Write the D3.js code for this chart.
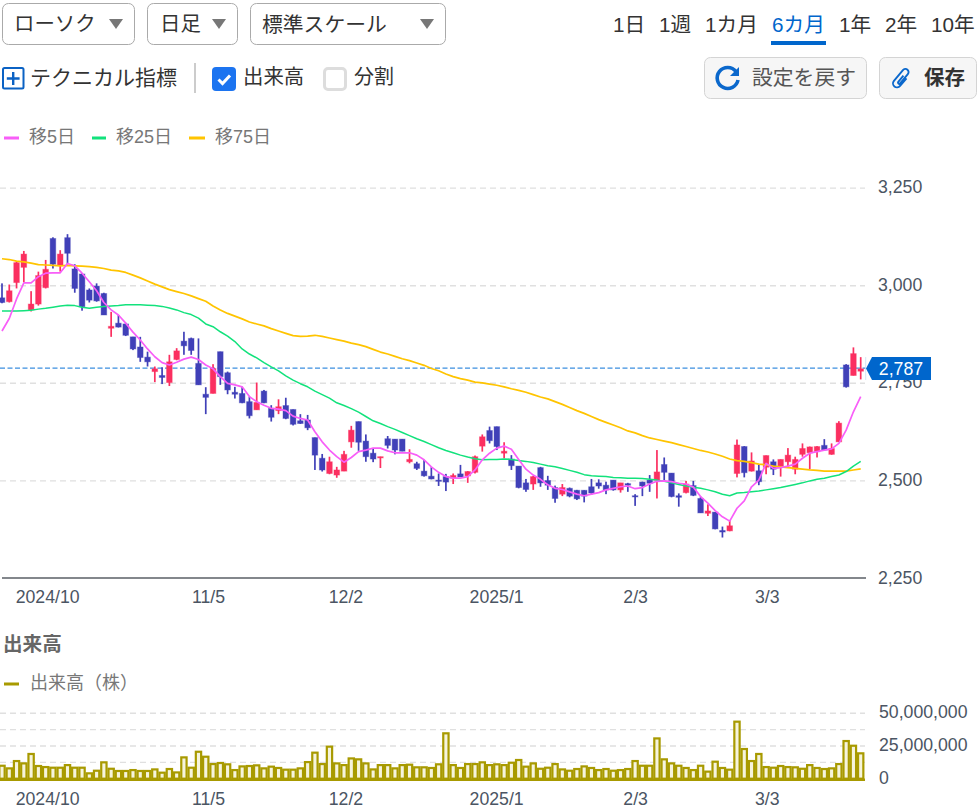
<!DOCTYPE html>
<html lang="ja"><head><meta charset="utf-8">
<script src="https://cdn.jsdelivr.net/npm/d3@7/dist/d3.min.js"></script>
<style>
html,body{margin:0;padding:0;background:#fff;overflow:hidden}
svg{display:block}
text{font-family:"Liberation Sans","Noto Sans CJK JP",sans-serif}
</style></head><body><div id="c"></div>
<script>
// ---------- data ----------
const opens=[2969,2959,3008,3047,2938,2953,2995,3121,3053,3123,
3043,3030,2989,2999,2980,2891,2904,2902,2869,2843,
2817,2780,2770,2752,2811,2858,2865,2801,2722,2724,
2831,2777,2727,2724,2703,2682,2730,2686,2680,2693,
2683,2654,2656,2611,2558,2519,2515,2525,2600,2652,
2602,2571,2559,2608,2607,2607,2549,2544,2525,2512,
2502,2511,2507,2518,2513,2522,2589,2629,2639,2571,
2556,2538,2495,2492,2534,2501,2483,2466,2481,2476,
2476,2485,2495,2489,2502,2477,2493,2462,2497,2502,
2502,2542,2520,2462,2470,2488,2455,2417,2420,2373,
2372,2519,2588,2525,2526,2535,2549,2536,2549,2530,
2568,2572,2575,2591,2568,2600,2797,2770,2781];
const closes=[2957,2987,3059,3081,2953,3026,3042,3055,3081,3083,
2993,2946,2963,2961,2925,2896,2894,2873,2838,2816,
2805,2787,2765,2805,2833,2846,2834,2746,2714,2788,
2767,2733,2722,2700,2667,2701,2700,2663,2690,2660,
2645,2647,2636,2566,2528,2549,2528,2568,2630,2599,
2562,2556,2562,2591,2579,2576,2555,2532,2513,2505,
2500,2497,2514,2510,2524,2562,2613,2603,2588,2576,
2539,2483,2478,2511,2495,2489,2455,2483,2461,2454,
2461,2469,2487,2477,2477,2495,2489,2459,2487,2494,
2523,2522,2460,2458,2492,2463,2418,2423,2377,2369,
2385,2592,2521,2551,2498,2565,2530,2555,2566,2555,
2583,2587,2588,2579,2583,2648,2741,2826,2787];
const highs=[3006,3003,3062,3089,2986,3036,3066,3124,3091,3132,
3055,3032,2993,3006,2982,2933,2925,2905,2869,2869,
2831,2793,2791,2823,2840,2882,2867,2865,2740,2799,
2831,2780,2741,2741,2716,2752,2733,2694,2709,2713,
2683,2671,2669,2611,2569,2562,2536,2577,2641,2652,
2619,2582,2562,2615,2607,2607,2581,2549,2554,2535,
2519,2518,2519,2541,2525,2565,2619,2639,2639,2599,
2566,2538,2505,2513,2536,2513,2488,2492,2483,2477,
2476,2505,2504,2498,2502,2495,2495,2466,2498,2515,
2579,2560,2520,2468,2500,2500,2460,2440,2420,2383,
2400,2606,2589,2573,2541,2565,2555,2555,2584,2562,
2596,2588,2589,2607,2596,2653,2799,2842,2817];
const lows=[2955,2957,2993,3009,2934,2949,2993,3044,3036,3055,
2982,2936,2957,2959,2925,2869,2893,2871,2835,2805,
2793,2753,2748,2743,2809,2823,2823,2746,2671,2724,
2746,2722,2711,2699,2660,2682,2699,2652,2671,2658,
2642,2646,2630,2528,2524,2517,2508,2525,2585,2577,
2549,2548,2533,2583,2568,2576,2545,2528,2511,2504,
2487,2474,2492,2510,2495,2519,2575,2596,2579,2558,
2528,2481,2472,2477,2485,2477,2444,2461,2458,2451,
2445,2464,2480,2466,2475,2470,2472,2436,2461,2472,
2455,2502,2458,2434,2468,2461,2418,2410,2376,2355,
2371,2509,2509,2524,2489,2517,2515,2511,2536,2517,
2562,2530,2560,2577,2567,2600,2739,2770,2760];
const ma5=[2884,2916,2966,3007,3007,3023,3032,3033,3033,3057,
3051,3032,3010,2987,2957,2938,2925,2904,2881,2861,
2838,2818,2803,2797,2804,2812,2817,2811,2797,2787,
2767,2750,2746,2741,2716,2703,2694,2686,2684,2680,
2666,2660,2656,2626,2600,2579,2562,2548,2560,2575,
2579,2584,2584,2577,2572,2572,2572,2566,2554,2536,
2522,2511,2507,2507,2511,2528,2554,2571,2584,2589,
2581,2555,2530,2515,2504,2490,2481,2478,2472,2466,
2462,2466,2470,2477,2481,2485,2487,2480,2483,2492,
2499,2500,2498,2494,2492,2484,2460,2443,2424,2408,
2397,2430,2449,2485,2502,2545,2532,2534,2538,2543,
2558,2571,2575,2579,2582,2596,2630,2677,2716];
const ma25=[2935,2935,2935,2936,2937,2940,2942,2945,2948,2950,
2949,2945,2942,2945,2947,2948,2949,2951,2951,2951,
2950,2949,2947,2943,2938,2931,2926,2917,2902,2895,
2882,2871,2857,2838,2825,2815,2803,2792,2782,2769,
2758,2749,2741,2730,2721,2712,2700,2693,2685,2676,
2665,2654,2647,2639,2632,2624,2616,2608,2601,2593,
2585,2578,2572,2566,2561,2557,2554,2555,2555,2556,
2555,2552,2550,2547,2543,2539,2536,2532,2527,2522,
2516,2513,2512,2511,2509,2508,2507,2507,2506,2504,
2502,2499,2495,2491,2487,2484,2481,2477,2472,2466,
2462,2469,2470,2472,2474,2477,2480,2483,2487,2491,
2495,2500,2504,2507,2511,2515,2524,2538,2550];
const ma75=[3069,3067,3063,3061,3058,3054,3053,3052,3051,3052,
3051,3050,3049,3047,3044,3040,3038,3034,3027,3020,
3012,3004,2997,2990,2985,2980,2974,2967,2960,2948,
2938,2929,2922,2915,2907,2902,2897,2890,2884,2878,
2872,2870,2871,2873,2870,2866,2862,2858,2853,2849,
2844,2837,2830,2825,2819,2813,2808,2802,2796,2788,
2782,2774,2767,2762,2758,2753,2751,2748,2745,2741,
2736,2732,2727,2721,2715,2710,2703,2696,2688,2680,
2673,2665,2657,2650,2643,2636,2628,2623,2616,2610,
2606,2602,2598,2593,2588,2583,2578,2574,2569,2563,
2556,2552,2550,2547,2543,2541,2538,2536,2534,2532,
2530,2528,2527,2525,2525,2525,2525,2528,2531];
const volumeMillions=[9.9,7.9,13.5,11.7,18.9,9.7,8.9,8.4,8.4,10.4,
8.4,8.4,4.1,6.1,12.5,7.6,5.9,5.9,6.6,5.9,
5.9,7.1,4.6,7.4,4.8,16.3,8.4,20.6,16.8,11.2,
12.0,11.0,6.6,9.4,9.7,10.2,7.9,9.2,8.2,6.9,
6.9,7.9,12.7,19.9,11.2,24.5,11.7,10.4,15.5,14.8,
11.7,7.1,10.4,10.4,7.9,10.4,10.7,8.7,8.7,8.2,
11.0,34.7,10.4,8.2,11.2,11.2,12.5,10.4,11.0,10.4,
12.2,14.3,9.2,11.7,7.6,8.4,11.2,7.1,6.1,7.4,
9.4,8.2,6.6,7.4,6.1,6.6,7.4,13.5,9.9,9.9,
30.8,14.8,11.7,9.9,8.2,6.6,9.9,5.4,13.0,8.2,
6.9,43.6,22.7,13.5,18.9,8.9,8.4,9.7,8.9,8.7,
7.6,10.4,8.2,7.4,7.9,11.2,28.8,25.2,19.4];
const dateLabels=["2024/10","11/5","12/2","2025/1","2/3","3/3"];
const dateTickIndex=[6.2,28.3,47.2,67.9,87,105.1];
const priceTicks=[2250,2500,2750,3000,3250];
const priceGrid=[2500,2750,3000,3250];
const volumeAxisTicks=[0,25,50];
const volumeGrid=[12.5,25,37.5,50];
const lastPrice=2787;
const rangeTabs=["1日","1週","1カ月","6カ月","1年","2年","10年"];
const maLabels=["移5日","移25日","移75日"];

// ---------- layout ----------
const W=978,H=812;
const svg=d3.select("#c").append("svg").attr("width",W).attr("height",H);
const x=d3.scaleLinear().domain([0,opens.length-1]).range([2,860.7]);
const y=d3.scaleLinear().domain([2250,3250]).range([578.5,188.1]);
const yV=d3.scaleLinear().domain([0,50]).range([778.7,713.3]);
const UP="#fb2f60",DOWN="#4040b8",MAG="#f85ef8",GRN="#12e27c",YEL="#ffc400";
const AX="#4b5563",OLIVE="#a89a00";
const gridX=[0,865];

function txt(t,xx,yy,size,col,opt={}){
  return svg.append("text").text(t).attr("x",xx).attr("y",yy).attr("font-size",size)
   .attr("fill",col).attr("dominant-baseline","central")
   .attr("font-weight",opt.w||400).attr("text-anchor",opt.a||"start");
}
function box(x0,y0,w,h,fill,stroke){
  return svg.append("rect").attr("x",x0).attr("y",y0).attr("width",w).attr("height",h)
   .attr("rx",6).attr("fill",fill).attr("stroke",stroke);
}
function tri(cx,cy){
  svg.append("path").attr("d",`M${cx-7},${cy-5}H${cx+7}L${cx},${cy+5}Z`).attr("fill","#777");
}

// dropdowns
box(2.5,3.5,132,41,"#fff","#aaa");txt("ローソク",14,24,20.4,"#333");tri(116,24);
box(147.5,3.5,90,41,"#fff","#aaa");txt("日足",160,24,20.4,"#333");tri(219,24);
box(250.5,3.5,195,41,"#fff","#aaa");txt("標準スケール",262,24,20.8,"#333");tri(427,24);

// range tabs
const tabX=[613,659,705,772,839,885,931];
rangeTabs.forEach((t,i)=>txt(t,tabX[i],24,20.7,i===3?"#0066cc":"#333"));
svg.append("rect").attr("x",771).attr("y",41).attr("width",55).attr("height",4).attr("fill","#0066cc");

// toolbar
svg.append("rect").attr("x",3).attr("y",68).attr("width",20.5).attr("height",20.5).attr("rx",1.5)
  .attr("fill","#fff").attr("stroke","#0b62c4").attr("stroke-width",2);
svg.append("path").attr("d","M13.2,72V85M6.8,78.5H19.6").attr("stroke","#0b62c4").attr("stroke-width",2.4).attr("fill","none");
txt("テクニカル指標",30,77,21,"#333");
svg.append("rect").attr("x",194).attr("y",63).attr("width",2).attr("height",30).attr("fill","#ccc");
svg.append("rect").attr("x",212).attr("y",67).attr("width",24).attr("height",24).attr("rx",4).attr("fill","#1c74f0");
svg.append("path").attr("d","M218.5,79.5L222.5,83.5L230,75.5").attr("stroke","#fff").attr("stroke-width",3).attr("fill","none");
txt("出来高",243,77,20.4,"#333");
svg.append("rect").attr("x",324.5).attr("y",68.5).attr("width",21).attr("height",21).attr("rx",3.5)
  .attr("fill","#fff").attr("stroke","#ddd").attr("stroke-width",3);
txt("分割",354,77,20,"#333");

// buttons
box(704.5,57.5,162,41,"#f6f6f6","#d4d4d4");
svg.append("path").attr("d","M736,71.5A10.5,10.5 0 1 0 738,80").attr("fill","none").attr("stroke","#0b68cc").attr("stroke-width",3.6);
svg.append("path").attr("d","M739,67V76H730Z").attr("fill","#0b68cc");
txt("設定を戻す",752,77,20.8,"#555");
box(879.5,57.5,97,41,"#f6f6f6","#d4d4d4");
svg.append("path").attr("d","M4,-3V7A4,4 0 0 1 -4,7V-7A3.2,3.2 0 0 1 2.4,-7V5A1.2,1.2 0 0 1 0,5V-3")
  .attr("fill","none").attr("stroke","#0b68cc").attr("stroke-width",1.9)
  .attr("transform","translate(901.5,78) rotate(40)");
txt("保存",924,77,20.5,"#333",{w:700});

// MA legend
[[4,19,MAG,29],[92,106,GRN,116],[189,205,YEL,215]].forEach((l,i)=>{
  svg.append("rect").attr("x",l[0]).attr("y",136.5).attr("width",l[1]-l[0]).attr("height",3).attr("fill",l[2]);
  txt(maLabels[i],l[3],137,18,"#777");
});

// grid
const gridLine=(g,yy)=>g.append("line").attr("x1",gridX[0]).attr("x2",gridX[1]).attr("y1",yy).attr("y2",yy)
  .attr("stroke","#e0e0e0").attr("stroke-width",1.4).attr("stroke-dasharray","6 4");
const grid=svg.append("g");
priceGrid.forEach(v=>gridLine(grid,y(v)));
volumeGrid.forEach(v=>gridLine(grid,yV(v)));

// last price dashed line
svg.append("line").attr("x1",0).attr("x2",866).attr("y1",y(lastPrice)-.7).attr("y2",y(lastPrice)-.7)
  .attr("stroke","#3d8fe0").attr("stroke-width",1.4).attr("stroke-dasharray","5 2.5");

// candles
const bw=5.6;
const candles=svg.append("g").selectAll("g").data(d3.range(opens.length)).join("g");
candles.append("rect").attr("x",i=>x(i)-.85).attr("width",1.7)
  .attr("y",i=>y(highs[i])).attr("height",i=>y(lows[i])-y(highs[i]))
  .attr("fill",i=>closes[i]>=opens[i]?UP:DOWN);
candles.append("rect").attr("x",i=>x(i)-bw/2).attr("width",bw)
  .attr("y",i=>y(Math.max(opens[i],closes[i])))
  .attr("height",i=>Math.max(1.2,Math.abs(y(opens[i])-y(closes[i]))))
  .attr("fill",i=>closes[i]>=opens[i]?UP:DOWN)
  .attr("stroke",i=>closes[i]>=opens[i]?UP:DOWN).attr("stroke-opacity",.4).attr("stroke-width",1);

// moving averages
const line=d3.line().x((d,i)=>x(i)).y(d=>y(d));
[[ma75,YEL,1.7],[ma25,GRN,1.5],[ma5,MAG,1.7]].forEach(m=>{
  svg.append("path").datum(m[0]).attr("d",line).attr("fill","none")
    .attr("stroke",m[1]).attr("stroke-width",m[2]).attr("stroke-linejoin","round");
});

// x axis line
svg.append("line").attr("x1",2).attr("x2",866).attr("y1",578).attr("y2",578).attr("stroke","#5a5f66").attr("stroke-width",1.5);

// axes
function style(g){g.select(".domain").remove();g.selectAll("line").remove();
  g.selectAll("text").attr("font-size",17.7).attr("fill",AX)
   .attr("font-family",'"Liberation Sans",sans-serif');return g;}
const yAxis=d3.axisRight(y).tickValues(priceTicks).tickSize(0).tickPadding(0).tickFormat(d3.format(","));
svg.append("g").attr("transform","translate(878,-1)").call(yAxis).call(style);
const vAxis=d3.axisRight(yV).tickValues(volumeAxisTicks).tickSize(0).tickPadding(0).tickFormat(d=>d3.format(",")(d*1e6));
svg.append("g").attr("transform","translate(879,-1)").call(vAxis).call(style);
const xAxis=d3.axisBottom(x).tickValues(dateTickIndex).tickSize(0).tickPadding(0)
  .tickFormat((d,i)=>dateLabels[i]);
svg.append("g").attr("transform","translate(0,590.3)").call(xAxis).call(style);
svg.append("g").attr("transform","translate(0,792)").call(xAxis).call(style);

// last price tag
svg.append("line").attr("x1",865.7).attr("x2",865.7).attr("y1",357).attr("y2",380).attr("stroke","#d5e5f5").attr("stroke-width",1);
svg.append("path").attr("d","M866,368.5L872,357H931V380H872Z").attr("fill","#0066cc");
txt(d3.format(",")(lastPrice),901,368.5,17.7,"#fff",{a:"middle"}).attr("font-family",'"Liberation Sans",sans-serif');

// volume panel
txt("出来高",3,644,19.6,"#666",{w:700});
svg.append("rect").attr("x",4).attr("y",682.5).attr("width",15).attr("height",3).attr("fill",OLIVE);
txt("出来高（株）",30,683,18,"#777");
svg.append("g").selectAll("rect").data(volumeMillions).join("rect")
  .attr("x",(d,i)=>x(i)-2.65).attr("width",5.3)
  .attr("y",d=>yV(d)).attr("height",d=>yV(0)-yV(d))
  .attr("fill","#f6f4dc").attr("stroke",OLIVE).attr("stroke-width",2.2);
svg.append("line").attr("x1",0).attr("x2",865).attr("y1",779.8).attr("y2",779.8).attr("stroke",OLIVE).attr("stroke-width",2.4);
</script></body></html>
